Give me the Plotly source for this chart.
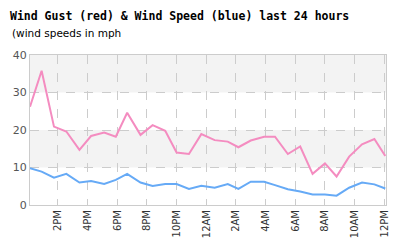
import plotly.graph_objects as go

times = ["2024-01-01 12:07", "2024-01-01 12:54", "2024-01-01 13:44", "2024-01-01 14:34",
         "2024-01-01 15:27", "2024-01-01 16:14", "2024-01-01 17:07", "2024-01-01 17:54",
         "2024-01-01 18:40", "2024-01-01 19:34", "2024-01-01 20:23", "2024-01-01 21:14",
         "2024-01-01 22:00", "2024-01-01 22:50", "2024-01-01 23:40", "2024-01-02 00:34",
         "2024-01-02 01:27", "2024-01-02 02:10", "2024-01-02 03:00", "2024-01-02 03:54",
         "2024-01-02 04:38", "2024-01-02 05:30", "2024-01-02 06:20", "2024-01-02 07:10",
         "2024-01-02 08:00", "2024-01-02 08:47", "2024-01-02 09:38", "2024-01-02 10:30",
         "2024-01-02 11:20", "2024-01-02 12:04"]
gust = [26.2, 35.8, 20.9, 19.6, 14.7, 18.4, 19.3, 18.2, 24.6, 18.7, 21.3, 19.8, 14.0, 13.6, 18.9,
        17.3, 16.9, 15.4, 17.2, 18.2, 18.2, 13.6, 15.6, 8.3, 11.1, 7.6, 12.9, 16.2, 17.6, 13.1]
speed = [9.8, 8.9, 7.3, 8.3, 6.0, 6.4, 5.6, 6.7, 8.3, 6.0, 5.1, 5.6, 5.6, 4.3, 5.1,
         4.6, 5.6, 4.3, 6.2, 6.2, 5.3, 4.2, 3.6, 2.8, 2.8, 2.5, 4.6, 6.0, 5.5, 4.4]
y_ticks = [0, 10, 20, 30, 40]
bands = [(10, 20), (30, 40)]

fig = go.Figure()
fig.add_trace(go.Scatter(x=times, y=gust, mode="lines", line=dict(color="#f48cc0", width=2),
                         hoverinfo="skip"))
fig.add_trace(go.Scatter(x=times, y=speed, mode="lines", line=dict(color="#66aaf6", width=2),
                         hoverinfo="skip"))

for lo, hi in bands:
    fig.add_shape(type="rect", xref="paper", yref="y", x0=0, x1=1, y0=lo, y1=hi,
                  fillcolor="#f3f3f3", line=dict(width=0), layer="below")

fig.update_layout(
    width=400, height=250,
    margin=dict(l=30, r=10, t=55, b=45),
    paper_bgcolor="white", plot_bgcolor="white",
    showlegend=False,
    title=dict(text="<b>Wind Gust (red) &amp; Wind Speed (blue) last 24 hours</b>",
               x=0.025, xanchor="left", y=0.936, yanchor="middle",
               font=dict(family="DejaVu Sans Mono", size=11.5, color="#000")),
    annotations=[dict(text="(wind speeds in mph", xref="paper", yref="paper",
                      x=-0.0556, y=1.147, xanchor="left", yanchor="middle", showarrow=False,
                      font=dict(family="DejaVu Sans", size=10.5, color="#000"))],
)
fig.update_xaxes(
    type="date", range=["2024-01-01 12:07", "2024-01-02 12:07"],
    tick0="2024-01-01 14:00", dtick=2 * 3600 * 1000, tickformat="%-I%p",
    tickangle=-90, tickfont=dict(family="DejaVu Sans", size=10, color="#333"),
    showgrid=True, gridcolor="#cccccc", griddash="dash", gridwidth=1,
    showline=True, linecolor="#cccccc", linewidth=1, mirror=True,
    ticks="", zeroline=False, fixedrange=True,
)
fig.update_yaxes(
    range=[0, 40], tickvals=y_ticks,
    tickfont=dict(family="DejaVu Sans", size=11, color="#555"),
    showgrid=True, gridcolor="#cccccc", griddash="dash", gridwidth=1,
    showline=True, linecolor="#cccccc", linewidth=1, mirror=True,
    ticks="", zeroline=False, fixedrange=True,
)
fig.write_html("out.html", config={"displayModeBar": False})
